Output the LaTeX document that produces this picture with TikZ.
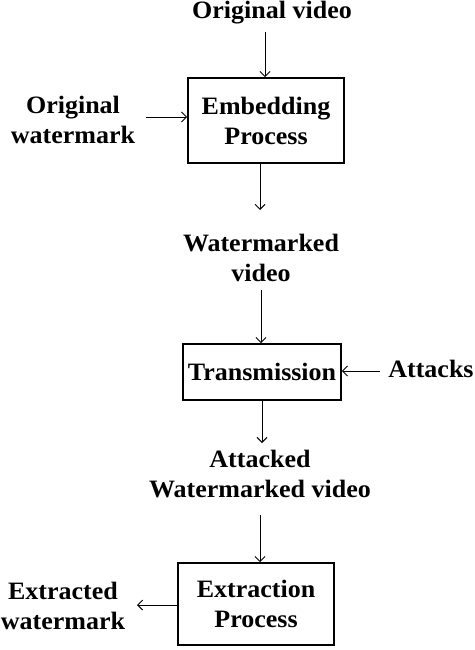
\documentclass[tikz,border=0pt]{standalone}
\usepackage{fontspec}
\setmainfont[FakeStretch=1.04]{Liberation Serif}
\usetikzlibrary{arrows.meta}
\begin{document}
\begin{tikzpicture}[x=1pt,y=-1pt,
  lbl/.style={font=\fontsize{25}{30}\selectfont\bfseries, align=center, inner sep=0pt},
  proc/.style={draw, line width=1.8pt, align=center, inner sep=0pt, font=\fontsize{25}{30}\selectfont\bfseries},
  arr/.style={line width=0.9pt, -{Straight Barb[length=5pt,width=10pt,line width=0.9pt]}}]
\useasboundingbox (0,0) rectangle (474,650);
\node[proc, minimum width=156pt, minimum height=85pt] (emb) at (266,120.5) {Embedding\\Process};
\node[proc, minimum width=158pt, minimum height=56pt] (tra) at (262,372) {Transmission};
\node[proc, minimum width=156pt, minimum height=82pt] (ext) at (256,604) {Extraction\\Process};
\node[lbl] (ov) at (272,13) {Original video};
\node[lbl] (ow) at (73,120) {Original\\watermark};
\node[lbl] (wv) at (261,258) {Watermarked\\video};
\node[lbl] (att) at (431,369) {Attacks};
\node[lbl] (awv) at (260,474) {Attacked\\Watermarked video};
\node[lbl] (ew) at (63,606) {Extracted\\watermark};
\coordinate (c1) at (265,32);
\coordinate (c2) at (146,117);
\coordinate (c3) at (260,210);
\coordinate (c4) at (261,290);
\coordinate (c5) at (380,371);
\coordinate (c6) at (262,443);
\coordinate (c7) at (260,515);
\coordinate (c8) at (137,605);
\draw[arr] (c1) -- (c1 |- emb.north);
\draw[arr] (c2) -- (emb.west |- c2);
\draw[arr] (c3 |- emb.south) -- (c3);
\draw[arr] (c4) -- (c4 |- tra.north);
\draw[arr] (c5) -- (tra.east |- c5);
\draw[arr] (c6 |- tra.south) -- (c6);
\draw[arr] (c7) -- (c7 |- ext.north);
\draw[arr] (ext.west |- c8) -- (c8);
\end{tikzpicture}
\end{document}
